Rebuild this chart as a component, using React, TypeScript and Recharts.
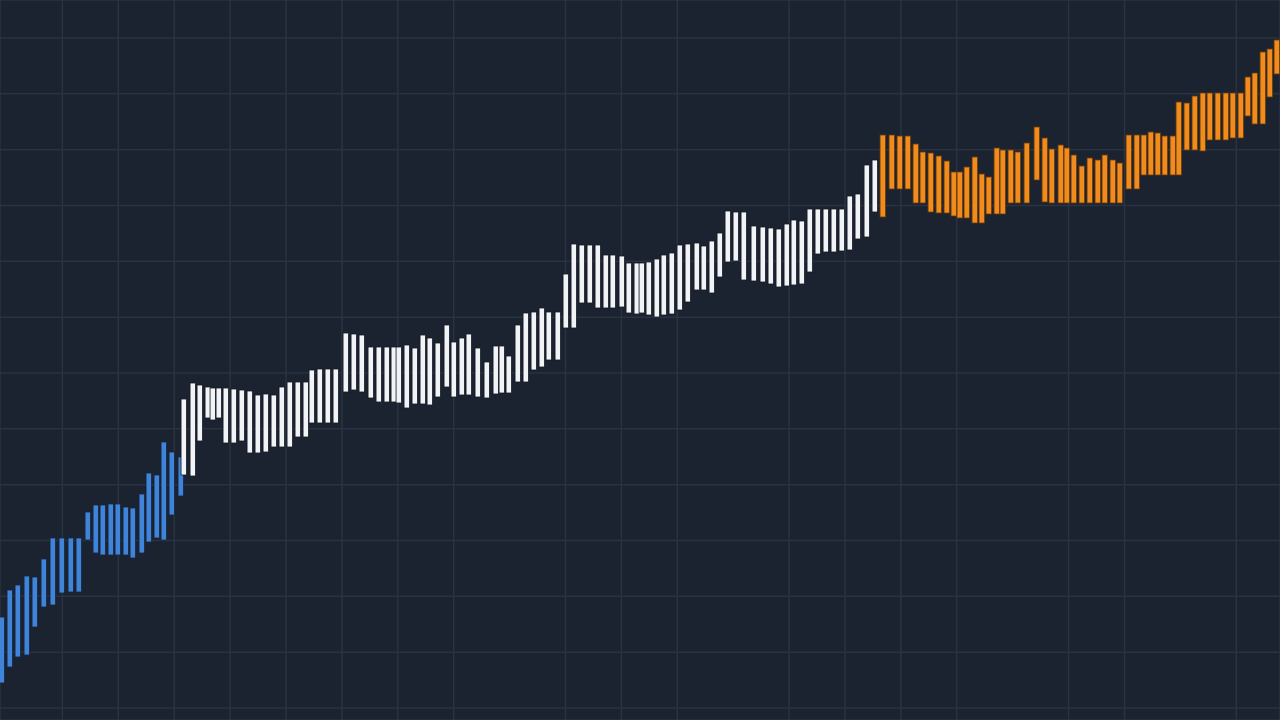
import React from 'react'
import { BarChart, Bar, XAxis, YAxis, CartesianGrid } from 'recharts'

// [t, low, high] — t runs along the session, values along the price scale
const blueBars: [number, number, number][] = [
  [2, 37, 103], [10, 53, 130], [18, 63, 135], [27, 65, 144], [35, 93, 143],
  [44, 113, 161], [53, 115, 182], [62, 127, 182], [71, 128, 182], [79, 128, 182],
  [88, 180, 208], [96, 167, 215], [103, 165, 215], [111, 165, 216], [118, 165, 216],
  [126, 165, 213], [133, 162, 212], [142, 167, 226], [149, 178, 247], [157, 182, 245],
  [164, 180, 278], [172, 205, 268], [181, 224, 263],
]

const whiteBars: [number, number, number][] = [
  [184, 245, 321], [193, 244, 337], [200, 279, 335], [208, 302, 333], [213, 300, 332],
  [219, 302, 332], [226, 277, 332], [234, 277, 331], [242, 279, 330], [250, 267, 329],
  [258, 267, 325], [266, 268, 326], [274, 273, 325], [282, 273, 333], [290, 273, 338],
  [298, 283, 338], [306, 283, 338], [312, 297, 350], [320, 297, 351], [328, 297, 351],
  [336, 297, 351], [346, 328, 387], [354, 330, 386], [362, 328, 385], [371, 322, 373],
  [379, 318, 373], [387, 318, 373], [394, 318, 373], [399, 317, 373], [407, 312, 375],
  [415, 316, 372], [423, 316, 385], [430, 315, 382], [438, 323, 377], [447, 333, 395],
  [454, 323, 378], [462, 325, 382], [469, 325, 386], [478, 323, 372], [487, 322, 358],
  [496, 326, 374], [502, 327, 374], [509, 327, 364], [518, 338, 395], [526, 338, 407],
  [534, 350, 408], [542, 353, 412], [549, 360, 408], [558, 360, 408], [566, 392, 446],
  [574, 392, 476], [582, 417, 475], [590, 417, 475], [598, 412, 475], [606, 412, 465],
  [613, 412, 465], [622, 413, 464], [629, 407, 457], [637, 406, 457], [642, 407, 457],
  [649, 405, 458], [657, 403, 461], [664, 405, 465], [672, 406, 467], [680, 410, 475],
  [688, 418, 476], [697, 430, 477], [704, 430, 474], [712, 427, 479], [720, 443, 487],
  [728, 458, 509], [736, 459, 508], [744, 440, 508], [754, 439, 494], [763, 438, 493],
  [771, 436, 492], [779, 433, 491], [787, 434, 496], [794, 435, 500], [802, 436, 499],
  [810, 448, 511], [818, 466, 511], [826, 468, 511], [834, 468, 511], [842, 469, 511],
  [850, 470, 524], [858, 481, 526], [867, 483, 555], [875, 508, 560],
]

const orangeBars: [number, number, number][] = [
  [883, 503, 585], [892, 531, 585], [900, 531, 584], [908, 531, 584], [916, 517, 576],
  [923, 517, 568], [931, 508, 567], [939, 507, 564], [947, 507, 559], [954, 504, 548],
  [960, 502, 548], [967, 502, 553], [975, 497, 563], [982, 497, 546], [989, 506, 543],
  [997, 506, 572], [1003, 506, 570], [1011, 517, 570], [1018, 517, 568], [1027, 517, 577],
  [1037, 540, 593], [1045, 518, 582], [1052, 517, 571], [1061, 517, 575], [1067, 517, 572],
  [1074, 517, 565], [1082, 517, 554], [1090, 517, 562], [1098, 517, 560], [1105, 517, 565],
  [1113, 517, 560], [1120, 517, 557], [1129, 531, 585], [1137, 531, 585], [1144, 545, 585],
  [1151, 545, 588], [1158, 545, 587], [1165, 545, 584], [1173, 545, 584], [1179, 545, 618],
  [1187, 570, 617], [1195, 570, 624], [1203, 569, 627], [1210, 580, 627], [1218, 580, 627],
  [1226, 580, 627], [1233, 582, 627], [1241, 582, 627], [1248, 604, 643], [1255, 596, 647],
  [1263, 596, 668], [1270, 623, 671], [1277, 646, 680],
]

const W = 1280
const H = 720
const BAR_W = 5.5

const tones = {
  blue: { fill: '#3f84d8', stroke: '#17263d' },
  white: { fill: '#f1f3f6', stroke: '#141a24' },
  orange: { fill: '#f08b1d', stroke: '#6a3a0a' },
}

type Tone = keyof typeof tones

const rows = [
  ...blueBars.map(([t, lo, hi]) => ({ t, range: [lo, hi], tone: 'blue' as Tone })),
  ...whiteBars.map(([t, lo, hi]) => ({ t, range: [lo, hi], tone: 'white' as Tone })),
  ...orangeBars.map(([t, lo, hi]) => ({ t, range: [lo, hi], tone: 'orange' as Tone })),
]

// grid every 10 "units" on both axes
const xTicks = Array.from({ length: 23 }, (_, k) => 6.5 + 55.9 * k)
const yTicks = Array.from({ length: 13 }, (_, k) => 12 + 55.83 * k)

// the numeric axis squeezes bars to the tightest gap, so widen them around their centre
function RangeBar(props: any) {
  const { x, y, width, height, payload } = props
  if (height == null || !payload) return null
  const tone = tones[payload.tone as Tone]
  const cx = x + width / 2
  const top = height < 0 ? y + height : y
  return (
    <rect
      x={cx - BAR_W / 2}
      y={top}
      width={BAR_W}
      height={Math.abs(height)}
      fill={tone.fill}
      stroke={tone.stroke}
      strokeWidth={0.8}
    />
  )
}

export default function App() {
  return (
    <div
      style={{
        position: 'fixed',
        left: 0,
        top: 0,
        width: W,
        height: H,
        background: '#1b2230',
        overflow: 'hidden',
      }}
    >
      <BarChart width={W} height={H} data={rows} margin={{ top: 0, right: 0, bottom: 0, left: 0 }}>
        <CartesianGrid stroke="#2a3342" strokeWidth={1.5} />
        <XAxis type="number" dataKey="t" domain={[0, W]} ticks={xTicks} hide />
        <YAxis type="number" domain={[0, H]} ticks={yTicks} hide allowDataOverflow />
        <Bar dataKey="range" shape={RangeBar} isAnimationActive={false} />
      </BarChart>
    </div>
  )
}
